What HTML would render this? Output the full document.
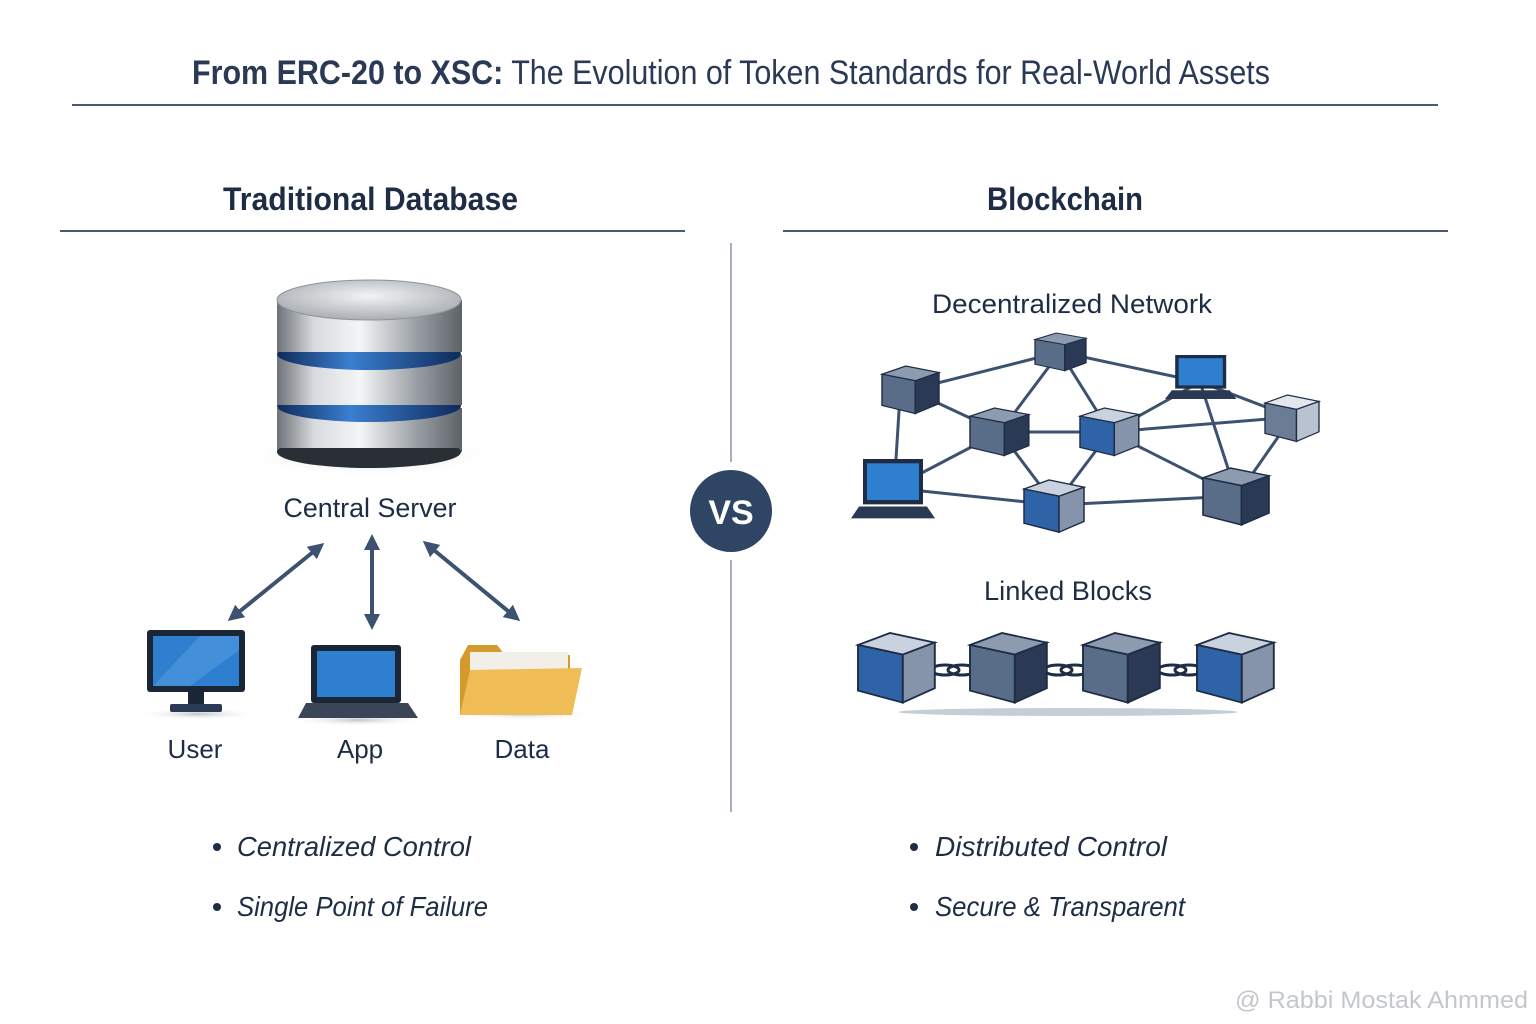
<!DOCTYPE html>
<html><head><meta charset="utf-8"><style>html,body{margin:0;padding:0;background:#fff}svg{display:block}</style></head>
<body>
<svg width="1536" height="1024" viewBox="0 0 1536 1024" xmlns="http://www.w3.org/2000/svg" font-family="Liberation Sans, sans-serif">
<defs>
<linearGradient id="metal" x1="0" x2="1">
<stop offset="0" stop-color="#6d7278"/><stop offset="0.2" stop-color="#d8dbde"/><stop offset="0.45" stop-color="#f4f5f6"/><stop offset="0.75" stop-color="#9aa0a6"/><stop offset="1" stop-color="#5d6268"/></linearGradient>
<linearGradient id="band" x1="0" x2="1"><stop offset="0" stop-color="#0e2a5a"/><stop offset="0.4" stop-color="#3b7fd0"/><stop offset="1" stop-color="#0e2a5a"/></linearGradient>
<radialGradient id="topg" cx="0.5" cy="0.4" r="0.6"><stop offset="0" stop-color="#f2f3f4"/><stop offset="1" stop-color="#a9aeb3"/></radialGradient>
<radialGradient id="shadow"><stop offset="0" stop-color="#bfc4ca"/><stop offset="1" stop-color="#fff" stop-opacity="0"/></radialGradient>
<marker id="ah" viewBox="0 0 10 10" refX="5" refY="5" markerWidth="4" markerHeight="4" orient="auto-start-reverse"><path d="M0,0 L10,5 L0,10 z" fill="#3d5270"/></marker>
<g id="cubeD"><polygon points="0,10 25,0 60,8 35,18" fill="#8c9bb0" stroke="#1e2d45" stroke-width="1.5"/><polygon points="0,10 35,18 35,58 0,48" fill="#5a6d88" stroke="#1e2d45" stroke-width="1.5"/><polygon points="35,18 60,8 60,46 35,58" fill="#2a3a55" stroke="#1e2d45" stroke-width="1.5"/></g>
<g id="cubeB"><polygon points="0,10 25,0 60,8 35,18" fill="#c9d2de" stroke="#1e2d45" stroke-width="1.5"/><polygon points="0,10 35,18 35,58 0,48" fill="#2f63a8" stroke="#1e2d45" stroke-width="1.5"/><polygon points="35,18 60,8 60,46 35,58" fill="#8594aa" stroke="#1e2d45" stroke-width="1.5"/></g>
<g id="cubeL"><polygon points="0,10 25,0 60,8 35,18" fill="#e3e7ec" stroke="#1e2d45" stroke-width="1.5"/><polygon points="0,10 35,18 35,58 0,48" fill="#6b7c95" stroke="#1e2d45" stroke-width="1.5"/><polygon points="35,18 60,8 60,46 35,58" fill="#b9c2ce" stroke="#1e2d45" stroke-width="1.5"/></g>
<g id="lap"><rect x="12" y="0" width="60" height="42" fill="#1e2d45"/><rect x="16" y="4" width="52" height="34" fill="#2f7fd0"/><polygon points="0,55 84,55 76,44 8,44" fill="#2a3a55"/></g>
</defs>

<!-- title -->
<text x="192" y="84" font-size="34" fill="#2a3a55" textLength="1078" lengthAdjust="spacingAndGlyphs"><tspan font-weight="bold">From ERC-20 to XSC:</tspan> The Evolution of Token Standards for Real-World Assets</text>
<line x1="72" y1="105" x2="1438" y2="105" stroke="#4a5a72" stroke-width="2"/>

<text x="223" y="210" font-size="32" font-weight="bold" fill="#1e2d45" textLength="295" lengthAdjust="spacingAndGlyphs">Traditional Database</text>
<text x="987" y="210" font-size="32" font-weight="bold" fill="#1e2d45" textLength="156" lengthAdjust="spacingAndGlyphs">Blockchain</text>
<line x1="60" y1="231" x2="685" y2="231" stroke="#4a5a72" stroke-width="2"/>
<line x1="783" y1="231" x2="1448" y2="231" stroke="#4a5a72" stroke-width="2"/>

<!-- divider + VS -->
<line x1="731" y1="243" x2="731" y2="462" stroke="#8a96a6" stroke-width="1.5"/>
<line x1="731" y1="560" x2="731" y2="812" stroke="#8a96a6" stroke-width="1.5"/>
<circle cx="731" cy="511" r="41" fill="#2e4563"/>
<text x="731" y="524" font-size="34" font-weight="bold" fill="#fff" text-anchor="middle">VS</text>

<!-- database -->
<ellipse cx="370" cy="455" rx="125" ry="22" fill="url(#shadow)"/>
<rect x="277" y="408" width="185" height="44" fill="url(#metal)"/>
<ellipse cx="369" cy="452" rx="92" ry="16" fill="#2a2f36"/>
<rect x="277" y="408" width="185" height="40" fill="url(#metal)"/>
<ellipse cx="369" cy="406" rx="92" ry="16" fill="url(#band)"/>
<rect x="277" y="355" width="185" height="50" fill="url(#metal)"/>
<ellipse cx="369" cy="354" rx="92" ry="16" fill="url(#band)"/>
<rect x="277" y="300" width="185" height="52" fill="url(#metal)"/>
<ellipse cx="369" cy="300" rx="92" ry="20" fill="url(#topg)" stroke="#8d9399"/>
<text x="370" y="517" font-size="27" fill="#1e2d45" text-anchor="middle" textLength="173" lengthAdjust="spacingAndGlyphs">Central Server</text>

<!-- arrows -->
<g stroke="#3d5270" stroke-width="4" marker-start="url(#ah)" marker-end="url(#ah)">
<line x1="318" y1="548" x2="234" y2="616"/>
<line x1="372" y1="542" x2="372" y2="622"/>
<line x1="429" y1="546" x2="514" y2="616"/>
</g>

<!-- user monitor -->
<ellipse cx="198" cy="714" rx="60" ry="6" fill="url(#shadow)"/>
<rect x="147" y="630" width="98" height="62" rx="3" fill="#1a2535"/>
<rect x="153" y="636" width="86" height="50" fill="#2f7fd0"/>
<polygon points="153,686 200,636 239,636 239,650 190,686" fill="#5aa0e4" opacity="0.5"/>
<rect x="188" y="692" width="16" height="12" fill="#1a2535"/>
<rect x="170" y="704" width="52" height="8" rx="2" fill="#2a3a55"/>
<!-- app laptop -->
<ellipse cx="358" cy="720" rx="70" ry="6" fill="url(#shadow)"/>
<rect x="311" y="645" width="90" height="58" rx="3" fill="#1a2535"/>
<rect x="317" y="651" width="78" height="46" fill="#2f7fd0"/>
<polygon points="298,718 418,718 408,703 306,703" fill="#3a4658"/>
<!-- folder -->
<ellipse cx="525" cy="714" rx="72" ry="6" fill="url(#shadow)"/>
<path d="M460,660 L460,715 L570,715 L570,655 L505,655 L497,645 L468,645 Z" fill="#d49a2c"/>
<rect x="470" y="652" width="98" height="20" fill="#f1efe8"/>
<path d="M460,715 L470,670 L582,668 L572,715 Z" fill="#f0bc55"/>
<text x="195" y="758" font-size="26" fill="#1e2d45" text-anchor="middle">User</text>
<text x="360" y="758" font-size="26" fill="#1e2d45" text-anchor="middle">App</text>
<text x="522" y="758" font-size="26" fill="#1e2d45" text-anchor="middle">Data</text>

<!-- bullets -->
<g font-size="28" font-style="italic" fill="#1e2d45">
<circle cx="217" cy="847" r="4" fill="#1e2d45"/><text x="237" y="856" textLength="234" lengthAdjust="spacingAndGlyphs">Centralized Control</text>
<circle cx="217" cy="907" r="4" fill="#1e2d45"/><text x="237" y="916" textLength="251" lengthAdjust="spacingAndGlyphs">Single Point of Failure</text>
<circle cx="914" cy="847" r="4" fill="#1e2d45"/><text x="935" y="856" textLength="232" lengthAdjust="spacingAndGlyphs">Distributed Control</text>
<circle cx="914" cy="907" r="4" fill="#1e2d45"/><text x="935" y="916" textLength="250" lengthAdjust="spacingAndGlyphs">Secure &amp; Transparent</text>
</g>

<!-- network -->
<text x="1072" y="313" font-size="27" fill="#1e2d45" text-anchor="middle" textLength="280" lengthAdjust="spacingAndGlyphs">Decentralized Network</text>
<g stroke="#3d5270" stroke-width="3">
<line x1="910" y1="390" x2="1060" y2="352"/>
<line x1="910" y1="390" x2="1000" y2="432"/>
<line x1="900" y1="395" x2="895" y2="475"/>
<line x1="1060" y1="352" x2="1000" y2="432"/>
<line x1="1060" y1="352" x2="1110" y2="432"/>
<line x1="1060" y1="352" x2="1200" y2="382"/>
<line x1="1200" y1="382" x2="1110" y2="432"/>
<line x1="1200" y1="382" x2="1292" y2="417"/>
<line x1="1200" y1="382" x2="1237" y2="496"/>
<line x1="1000" y1="432" x2="1110" y2="432"/>
<line x1="1000" y1="432" x2="893" y2="488"/>
<line x1="1000" y1="432" x2="1055" y2="505"/>
<line x1="1110" y1="432" x2="1055" y2="505"/>
<line x1="1110" y1="432" x2="1292" y2="417"/>
<line x1="1110" y1="432" x2="1237" y2="496"/>
<line x1="893" y1="488" x2="1055" y2="505"/>
<line x1="1055" y1="505" x2="1237" y2="496"/>
<line x1="1292" y1="417" x2="1237" y2="496"/>
</g>
<use href="#cubeD" transform="translate(882,366) scale(0.95,0.82)"/>
<use href="#cubeD" transform="translate(1035,333) scale(0.85,0.65)"/>
<use href="#cubeD" transform="translate(970,408) scale(0.98,0.82)"/>
<use href="#cubeB" transform="translate(1080,408) scale(0.98,0.82)"/>
<use href="#cubeL" transform="translate(1265,395) scale(0.9,0.8)"/>
<use href="#cubeB" transform="translate(1024,480) scale(1.0,0.9)"/>
<use href="#cubeD" transform="translate(1203,468) scale(1.1,0.98)"/>
<use href="#lap" transform="translate(1165,355) scale(0.85,0.8)"/>
<use href="#lap" transform="translate(851,459) scale(1.0,1.08)"/>

<!-- linked blocks -->
<text x="1068" y="600" font-size="27" fill="#1e2d45" text-anchor="middle" textLength="168" lengthAdjust="spacingAndGlyphs">Linked Blocks</text>
<ellipse cx="1068" cy="712" rx="170" ry="4" fill="#c6cdd6"/>
<g stroke="#1e2d45" stroke-width="3" fill="none">
<ellipse cx="945" cy="670" rx="14" ry="5"/><ellipse cx="962" cy="670" rx="14" ry="5"/>
<ellipse cx="1058" cy="670" rx="14" ry="5"/><ellipse cx="1075" cy="670" rx="14" ry="5"/>
<ellipse cx="1172" cy="670" rx="14" ry="5"/><ellipse cx="1189" cy="670" rx="14" ry="5"/>
</g>
<use href="#cubeB" transform="translate(858,633) scale(1.28,1.2)"/>
<use href="#cubeD" transform="translate(970,633) scale(1.28,1.2)"/>
<use href="#cubeD" transform="translate(1083,633) scale(1.28,1.2)"/>
<use href="#cubeB" transform="translate(1197,633) scale(1.28,1.2)"/>

<text x="1235" y="1008" font-size="24" fill="#c3c7cc" textLength="293" lengthAdjust="spacingAndGlyphs">@ Rabbi  Mostak Ahmmed</text>
</svg>
</body></html>
